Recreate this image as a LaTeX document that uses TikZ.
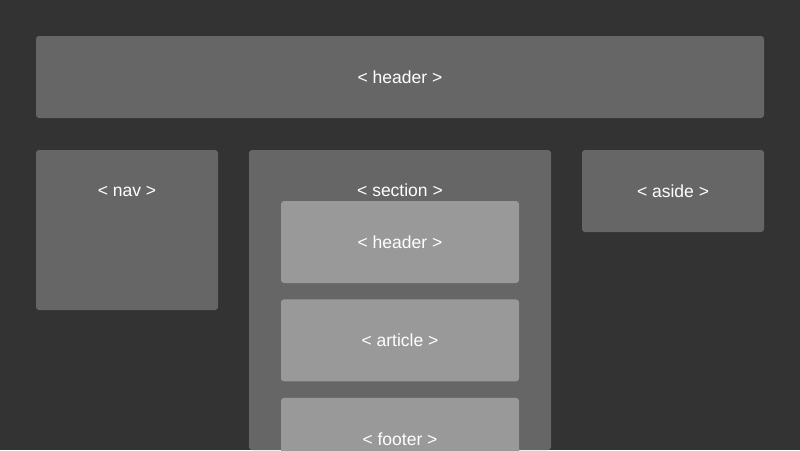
\documentclass[tikz,border=0pt]{standalone}
\usepackage{fontspec}
\setmainfont{Liberation Sans}
\usetikzlibrary{positioning}
\definecolor{bg}{HTML}{333333}
\definecolor{boxgray}{HTML}{666666}
\definecolor{innergray}{HTML}{999999}
\tikzstyle{blk}=[fill=boxgray, rounded corners=3pt, inner sep=0pt, text=white, font=\fontsize{17.5}{21}\selectfont]
\tikzstyle{sub}=[blk, fill=innergray, minimum width=238pt, minimum height=82pt]
\tikzstyle{tag}=[anchor=center, yshift=-42pt, text=white, text height=13pt, text depth=4pt, font=\fontsize{17.5}{21}\selectfont]

\begin{document}
\begin{tikzpicture}[x=1pt,y=-1pt]
    \useasboundingbox (0,0) rectangle (800,450);
    \fill[bg] (0,0) rectangle (800,450);
    \clip (0,0) rectangle (800,450);
    \node [blk, minimum width=728pt, minimum height=82pt] (header) at (400,77) {< header >};
    \node [blk, minimum width=182pt, minimum height=160pt, label={[tag]north:{< nav >}}] (nav) at (127,230) {};
    \node [blk, minimum width=302pt, minimum height=300pt, label={[tag]north:{< section >}}] (section) at (400,300) {};
    \node [blk, minimum width=182pt, minimum height=82pt] (aside) at (673,191) {< aside >};
    \node [sub] (ihead) at (400,242) {< header >};
    \node [sub, below=16pt of ihead] (article) {< article >};
    \node [sub, below=16pt of article] (footer) {< footer >};
\end{tikzpicture}
\end{document}
